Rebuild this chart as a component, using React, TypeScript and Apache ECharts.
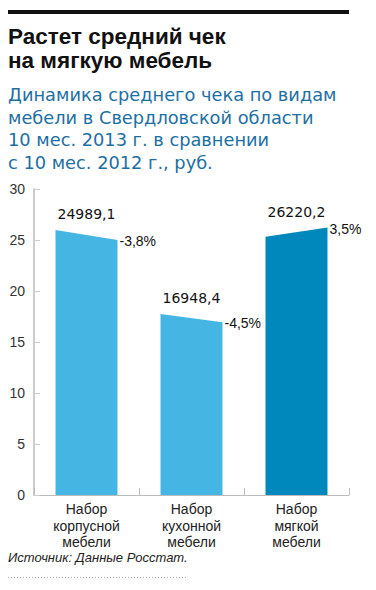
import React, { useEffect, useRef } from "react";
import * as echarts from "echarts";

const categories = ["Набор\nкорпусной\nмебели", "Набор\nкухонной\nмебели", "Набор\nмягкой\nмебели"];
const values2012 = [25.98, 17.75, 25.33]; // тыс. руб., 10 мес. 2012
const values2013 = [24.9891, 16.9484, 26.2202]; // тыс. руб., 10 мес. 2013
const valueLabels = ["24989,1", "16948,4", "26220,2"];
const changeLabels = ["-3,8%", "-4,5%", "3,5%"];
const barColors = ["#45b6e3", "#45b6e3", "#0088bd"];
const yTicks = { min: 0, max: 30, interval: 5 };

const FONT = "'Liberation Sans', Arial, sans-serif";
const WIDE = "'DejaVu Sans', sans-serif";

export default function App() {
  const ref = useRef<HTMLDivElement>(null);
  useEffect(() => {
    const chart = echarts.init(ref.current!, null, { renderer: "svg" });
    const data = categories.map((_, i) => [i, values2012[i], values2013[i]]);
    chart.setOption({
      animation: false,
      backgroundColor: "#fff",
      grid: { left: 34, right: 27, top: 189, bottom: 95 },
      graphic: [
        { type: "rect", shape: { x: 8, y: 10, width: 341, height: 4 }, style: { fill: "#111" } },
        {
          type: "text", left: 8, top: 24,
          style: { text: "Растет средний чек\nна мягкую мебель", font: `bold 22.5px ${FONT}`, fill: "#111", lineHeight: 24 },
        },
        {
          type: "text", left: 8, top: 83,
          style: {
            text: "Динамика среднего чека по видам\nмебели в Свердловской области\n10 мес. 2013 г. в сравнении\nс 10 мес. 2012 г., руб.",
            font: `17.8px ${WIDE}`, fill: "#1d6fa3", lineHeight: 22.7,
          },
        },
        {
          type: "text", left: 8, top: 551,
          style: { text: "Источник: Данные Росстат.", font: `italic 13px ${FONT}`, fill: "#222" },
        },
        {
          type: "line", shape: { x1: 8, y1: 577.5, x2: 186, y2: 577.5 },
          style: { stroke: "#aaa", lineWidth: 1, lineDash: [1, 2] },
        },
      ],
      xAxis: {
        type: "category",
        data: categories,
        axisLine: { lineStyle: { color: "#bbb" } },
        axisTick: { show: true, inside: true, length: 7, lineStyle: { color: "#bbb" } },
        axisLabel: { color: "#222", fontSize: 14, fontFamily: FONT, lineHeight: 16.5, margin: 6 },
      },
      yAxis: {
        type: "value",
        min: yTicks.min, max: yTicks.max, interval: yTicks.interval,
        axisLine: { show: true, lineStyle: { color: "#ccc", width: 2 } },
        axisTick: { show: true, inside: true, length: 6, lineStyle: { color: "#ccc" } },
        splitLine: { show: false },
        axisLabel: { color: "#333", fontSize: 14, fontFamily: FONT, margin: 9 },
      },
      series: [
        {
          type: "custom",
          data,
          encode: { x: 0, y: [1, 2] },
          renderItem: (params: any, api: any) => {
            const i = api.value(0);
            const v0 = api.value(1);
            const v1 = api.value(2);
            const bw = api.size([1, 0])[0] * 0.59;
            const c = api.coord([i, 0]);
            const pL = api.coord([i, v0]);
            const pR = api.coord([i, v1]);
            const xl = c[0] - bw / 2;
            const xr = c[0] + bw / 2;
            const topY = Math.min(pL[1], pR[1]);
            return {
              type: "group",
              children: [
                {
                  type: "polygon",
                  shape: { points: [[xl, c[1]], [xl, pL[1]], [xr, pR[1]], [xr, c[1]]] },
                  style: { fill: barColors[params.dataIndex] },
                },
                {
                  type: "text",
                  style: {
                    x: c[0], y: topY - 16, text: valueLabels[params.dataIndex],
                    font: `14px ${WIDE}`, fill: "#111", align: "center", verticalAlign: "middle",
                  },
                },
                {
                  type: "text",
                  style: {
                    x: xr + 2, y: pR[1] + 1, text: changeLabels[params.dataIndex],
                    font: `14px ${FONT}`, fill: "#111", align: "left", verticalAlign: "middle",
                  },
                },
              ],
            };
          },
        },
      ],
    });
    return () => chart.dispose();
  }, []);
  return <div ref={ref} style={{ width: 376, height: 590, position: "absolute", left: 0, top: 0 }} />;
}
